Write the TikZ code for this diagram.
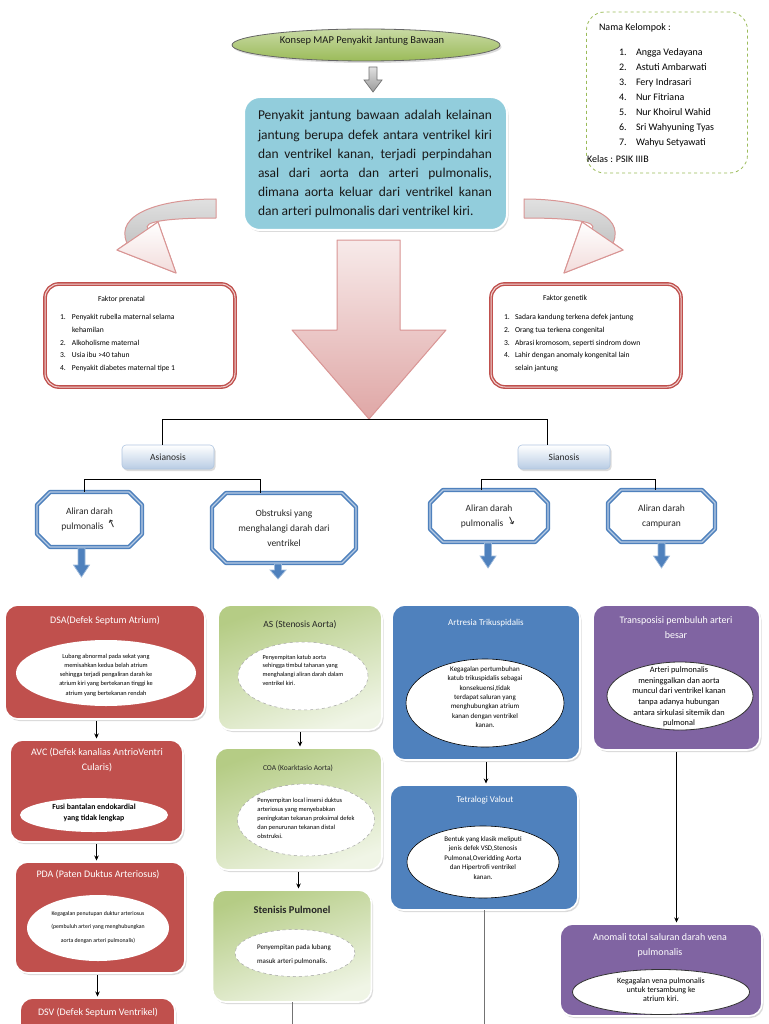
\documentclass[tikz,border=0pt]{standalone}
\usepackage{fontspec}
\setmainfont{Carlito}
\newfontfamily\dejavu{DejaVu Sans}
\usetikzlibrary{arrows.meta,calc,shadows,shapes.geometric}
\pgfdeclarelayer{bg}
\pgfsetlayers{bg,main}
\definecolor{cRed}{HTML}{C0504D}
\definecolor{cRedL}{HTML}{E6B9B8}
\definecolor{cBlue}{HTML}{4F81BD}
\definecolor{cBlueL}{HTML}{B8CCE4}
\definecolor{cPurple}{HTML}{8064A2}
\definecolor{cGreenD}{HTML}{B5CC85}
\definecolor{cGreenL}{HTML}{F0F5E6}
\definecolor{cAqua}{HTML}{92CDDC}
\definecolor{cOlive}{HTML}{9BBB59}
\definecolor{cPink}{HTML}{D99594}
\definecolor{cPinkL}{HTML}{F2DCDB}
\newcommand\myoctagon[2]{%
\begin{pgfonlayer}{bg}
\draw[octline] ($(#1.north west)+(#2,0)$) -- ($(#1.north east)+(-#2,0)$) -- ($(#1.north east)+(0,#2)$) -- ($(#1.south east)+(0,-#2)$) -- ($(#1.south east)+(-#2,0)$) -- ($(#1.south west)+(#2,0)$) -- ($(#1.south west)+(0,-#2)$) -- ($(#1.north west)+(0,#2)$) -- cycle;
\end{pgfonlayer}}
\begin{document}
\begin{tikzpicture}[x=1pt,y=-1pt,
 every node/.style={inner sep=0pt,outer sep=0pt},
 conn/.style={line width=0.7pt,black},
 arr/.style={conn,-{Stealth[length=5pt,width=4.5pt]},shorten <=2pt,shorten >=1.5pt},
 gline/.style={line width=0.8pt,black!55},
 shad/.style={drop shadow={opacity=0.28,shadow xshift=1.5pt,shadow yshift=-2pt}},
 cbox/.style={shad,rounded corners=13pt,draw=white,line width=1.6pt},
 redbox/.style={cbox,fill=cRed},
 bluebox/.style={cbox,fill=cBlue},
 purplebox/.style={cbox,fill=cPurple},
 greenbox/.style={cbox,top color=cGreenD,bottom color=cGreenL,shading angle=20},
 octline/.style={fill=white,draw=cBlue,double=cBlueL,double distance=1.1pt,line width=1.6pt,line join=round},
 octtxt/.style={align=center,font=\fontsize{9.5}{15}\selectfont,text=black!85},
 hbox/.style={shad,rounded corners=4pt,top color=white,bottom color=cBlueL,draw=cBlue!45,line width=0.6pt,font=\fontsize{9.5}{11}\selectfont,text=black!85},
 faktorbox/.style={rounded corners=14pt,fill=white,draw=cRed,double=cRedL!60!white,double distance=1pt,line width=1.4pt},
 listfont/.style={align=left,font=\fontsize{7.6}{12.7}\selectfont,text=black},
 barrow/.style={fill=cBlue,draw=cBlue!55!white,line width=0.7pt},
 ellbase/.style={ellipse,fill=white},
 redell/.style={ellbase},
 greenell/.style={ellbase,draw=black!35,dashed,line width=0.5pt},
 blueell/.style={ellbase,draw=black,line width=0.6pt},
 purpell/.style={ellbase,draw=black!80,line width=0.8pt},
 wtitle/.style={text=white,align=center,font=\fontsize{10}{15}\selectfont},
 dtitle/.style={text=black!85,align=center},
 curveband/.style={top color=black!12,bottom color=black!30,draw=cPink,line width=1pt,line join=round},
 curvehead/.style={top color=white,bottom color=cPinkL,draw=cPink,line width=1pt,line join=round},
]
\begin{pgfonlayer}{bg}
\fill[white] (0,0) rectangle (768,1024);
\end{pgfonlayer}
\useasboundingbox (0,0) rectangle (768,1024);
\coordinate (pagebottom) at (0,1024);

% ---------- title ellipse and grey arrow
\node[ellipse,shad,top color=cOlive!55!white,bottom color=cOlive,draw=black!60,line width=0.8pt,minimum width=268pt,minimum height=32pt] (judul) at (366,45) {};
\node[font=\fontsize{10.5}{12}\selectfont,text=black!90] (judultxt) at (362,41) {Konsep MAP Penyakit Jantung Bawaan};
\draw[top color=black!12,bottom color=black!40,draw=black!55,line width=0.7pt,shift={($(judul.south)+(7,6)$)}]
 (-4,0) -- (-4,13) -- (-9,13) -- (0,25) -- (9,13) -- (4,13) -- (4,0) -- cycle;

% ---------- definition box
\node[shad,rounded corners=16pt,fill=cAqua,draw=white,line width=2pt,minimum width=263pt,minimum height=133pt] (def) at (375.5,163.5) {};
\node[anchor=north west,align=left,font=\fontsize{13.5}{19.2}\selectfont,text=black!90] (deftxt) at (258,110.5) {%
\makebox[234pt][s]{Penyakit jantung bawaan adalah kelainan}\\
\makebox[234pt][s]{jantung berupa defek antara ventrikel kiri}\\
\makebox[234pt][s]{dan ventrikel kanan, terjadi perpindahan}\\
\makebox[234pt][s]{asal dari aorta dan arteri pulmonalis,}\\
\makebox[234pt][s]{dimana aorta keluar dari ventrikel kanan}\\
dan arteri pulmonalis dari ventrikel kiri.};

% ---------- group box
\node[rounded corners=18pt,draw=cOlive,dashed,line width=0.8pt,minimum width=161pt,minimum height=161pt] (nama) at (667,92.5) {};
\node[anchor=west,font=\fontsize{10}{15}\selectfont] (namajudul) at (599,28) {Nama Kelompok :};
\node[anchor=north west,align=left,font=\fontsize{10}{15}\selectfont] (namalist) at (619,48.5) {%
\makebox[17pt][l]{1.}Angga Vedayana\\
\makebox[17pt][l]{2.}Astuti Ambarwati\\
\makebox[17pt][l]{3.}Fery Indrasari\\
\makebox[17pt][l]{4.}Nur Fitriana\\
\makebox[17pt][l]{5.}Nur Khoirul Wahid\\
\makebox[17pt][l]{6.}Sri Wahyuning Tyas\\
\makebox[17pt][l]{7.}Wahyu Setyawati};
\node[anchor=west,font=\fontsize{10}{15}\selectfont] (kelas) at (587,159) {Kelas : PSIK IIIB};

% ---------- curved arrows
\draw[curveband] (216,199) .. controls (160,199) and (114,214) .. (127,243) -- (117,250) -- (176,273) -- (158,222) -- (148,229) .. controls (142,222) and (165,218) .. (216,218) -- cycle;
\draw[curvehead] (117,250) -- (176,273) -- (158,222) -- cycle;
\draw[curveband] (524,199) .. controls (580,199) and (626,214) .. (613,243) -- (623,250) -- (564,273) -- (582,222) -- (592,229) .. controls (598,222) and (575,218) .. (524,218) -- cycle;
\draw[curvehead] (623,250) -- (564,273) -- (582,222) -- cycle;

% ---------- big pink arrow
\draw[top color=cPinkL!60!white,bottom color=cPink!75!cPinkL,draw=cPink,line width=1pt,line join=round]
 (337,240) -- (400,240) -- (400,330) -- (446,330) -- (369,419) -- (292,330) -- (337,330) -- cycle;
\coordinate (tip) at (369,419);

% ---------- factor boxes
\node[faktorbox,minimum width=190pt,minimum height=103pt] (prenatal) at (140,335.5) {};
\node[font=\fontsize{7.6}{9}\selectfont] (prenataljudul) at (121.5,299) {Faktor prenatal};
\node[listfont,anchor=north west] (prenatallist) at (60,314.5) {%
\makebox[12pt][l]{1.}Penyakit rubella maternal selama\\
\makebox[12pt][l]{}kehamilan\\
\makebox[12pt][l]{2.}Alkoholisme maternal\\
\makebox[12pt][l]{3.}Usia ibu >40 tahun\\
\makebox[12pt][l]{4.}Penyakit diabetes maternal tipe 1};
\node[faktorbox,minimum width=190pt,minimum height=103pt] (genetik) at (586,335.5) {};
\node[font=\fontsize{7.6}{9}\selectfont] (genetikjudul) at (565,299) {Faktor genetik};
\node[listfont,anchor=north west] (genetiklist) at (504,314.5) {%
\makebox[11pt][l]{1.}Sadara kandung terkena defek jantung\\
\makebox[11pt][l]{2.}Orang tua terkena congenital\\
\makebox[11pt][l]{3.}Abrasi kromosom, seperti sindrom down\\
\makebox[11pt][l]{4.}Lahir dengan anomaly kongenital lain\\
\makebox[11pt][l]{}selain jantung};

% ---------- tree
\node[hbox,minimum width=92pt,minimum height=24pt] (asia) at (168,457) {Asianosis};
\node[hbox,minimum width=92pt,minimum height=24pt] (sia) at (564,457) {Sianosis};
\coordinate (ta) at (162,419);
\coordinate (ts) at (547,419);
\draw[conn] (ta |- asia.north) -- (ta) -- (ts) -- (ts |- sia.north);

\node[octtxt,minimum width=105pt,minimum height=55pt] (o1) at (89.5,519.5) {Aliran darah\\pulmonalis {\dejavu\fontsize{11}{11}\selectfont\rotatebox{25}{↑}}};
\node[octtxt,minimum width=144pt,minimum height=70pt] (o2) at (284,528) {Obstruksi yang\\menghalangi darah dari\\ventrikel};
\node[octtxt,minimum width=118pt,minimum height=52pt] (o3) at (489,516) {Aliran darah\\pulmonalis {\dejavu\fontsize{11}{11}\selectfont\rotatebox{25}{↓}}};
\node[octtxt,minimum width=107pt,minimum height=52pt] (o4) at (661.5,516) {Aliran darah\\campuran};
\myoctagon{o1}{13}
\myoctagon{o2}{14}
\myoctagon{o3}{13}
\myoctagon{o4}{13}
\coordinate (bl1) at (84,479);
\coordinate (bl2) at (260,479);
\coordinate (br1) at (481,479);
\coordinate (br2) at (655,479);
\draw[conn] (bl1 |- o1.north) -- (bl1) -- (bl2) -- (bl2 |- o2.north);
\draw[conn] (br1 |- o3.north) -- (br1) -- (br2) -- (br2 |- o4.north);

\draw[barrow,shift={($(o1.south)+(-8,1)$)}] (-3.5,0) -- (-3.5,17) -- (-8,17) -- (0,29) -- (8,17) -- (3.5,17) -- (3.5,0) -- cycle;
\draw[barrow,shift={($(o2.south)+(-6,1)$)}] (-3.5,0) -- (-3.5,6) -- (-8,6) -- (0,15) -- (8,6) -- (3.5,6) -- (3.5,0) -- cycle;
\draw[barrow,shift={($(o3.south)+(-1,1)$)}] (-3.5,0) -- (-3.5,13) -- (-8,13) -- (0,25) -- (8,13) -- (3.5,13) -- (3.5,0) -- cycle;
\draw[barrow,shift={($(o4.south)+(0,1)$)}] (-3.5,0) -- (-3.5,13) -- (-8,13) -- (0,25) -- (8,13) -- (3.5,13) -- (3.5,0) -- cycle;

% ---------- column 1 (red)
\node[redbox,minimum width=200pt,minimum height=114pt] (dsa) at (105,662) {};
\node[wtitle] (dsat) at (105,621) {DSA(Defek Septum Atrium)};
\node[redell,minimum width=180pt,minimum height=66pt] (dsaell) at (106,673) {};
\node[align=center,font=\fontsize{6.3}{9.2}\selectfont] (dsaisi) at (106,675) {Lubang abnormal pada sekat yang\\memisahkan kedua belah atrium\\sehingga terjadi pengaliran darah ke\\atrium kiri yang bertekanan tinggi ke\\atrium yang bertekanan rendah};

\node[redbox,minimum width=173pt,minimum height=102pt] (avc) at (96.5,791) {};
\node[wtitle] (avct) at (97,760.5) {AVC (Defek kanalias AntrioVentri\\Cularis)};
\node[redell,minimum width=148pt,minimum height=34pt] (avcell) at (94,815) {};
\node[align=center,font=\bfseries\fontsize{7.8}{11.5}\selectfont] (avcisi) at (94,813) {Fusi bantalan endokardial\\yang tidak lengkap};

\node[redbox,minimum width=170pt,minimum height=111pt] (pda) at (100,917.5) {};
\node[wtitle] (pdat) at (98,875) {PDA (Paten Duktus Arteriosus)};
\node[redell,minimum width=142pt,minimum height=66pt] (pdaell) at (98,928) {};
\node[align=center,font=\fontsize{5.8}{13.5}\selectfont] (pdaisi) at (98,927) {Kegagalan penutupan duktur arteriosus\\(pembuluh arteri yang menghubungkan\\aorta dengan arteri pulmonalis)};

\node[redbox,minimum width=155pt,minimum height=44pt] (dsv) at (97.5,1020) {};
\node[wtitle] (dsvt) at (98,1013) {DSV (Defek Septum Ventrikel)};

\draw[arr] (dsa.south -| avc.north) -- (avc.north);
\draw[arr] (avc.south) -- (avc.south |- pda.north);
\draw[arr] (dsv.north |- pda.south) -- (dsv.north);

% ---------- column 2 (green)
\node[greenbox,minimum width=164pt,minimum height=125pt] (as) at (300,667.5) {};
\node[dtitle,font=\fontsize{9.5}{11}\selectfont] (ast) at (300,625) {AS (Stenosis Aorta)};
\node[greenell,minimum width=130pt,minimum height=68pt] (asell) at (303,676) {};
\node[align=left,font=\fontsize{6.2}{8.6}\selectfont] (asisi) at (303,670) {Penyempitan katub aorta\\sehingga timbul tahanan yang\\menghalangi aliran darah dalam\\ventrikel kiri.};

\node[greenbox,minimum width=167pt,minimum height=122pt] (coa) at (298.5,809) {};
\node[dtitle,font=\fontsize{7.5}{9}\selectfont] (coat) at (298,768) {COA (Koarktasio Aorta)};
\node[greenell,minimum width=137pt,minimum height=72pt] (coaell) at (306,820) {};
\node[align=left,font=\fontsize{6.4}{9}\selectfont] (coaisi) at (306,818) {Penyempitan local insersi duktus\\arteriosus yang menyebabkan\\peningkatan tekanan proksimal defek\\dan penurunan tekanan distal\\obstruksi.};

\node[greenbox,minimum width=159pt,minimum height=112pt] (sp) at (292,946) {};
\node[dtitle,font=\bfseries\fontsize{10.5}{12}\selectfont] (spt) at (292,910) {Stenisis Pulmonel};
\node[greenell,minimum width=120pt,minimum height=47pt] (spell) at (295,953) {};
\node[align=left,font=\fontsize{7}{14}\selectfont] (spisi) at (294,955) {Penyempitan pada lubang\\masuk arteri pulmonalis.};

\draw[arr] (as.south) -- (as.south |- coa.north);
\draw[arr] (coa.south) -- (coa.south |- sp.north);
\draw[gline] (sp.south) -- (sp.south |- pagebottom);

% ---------- column 3 (blue)
\node[bluebox,minimum width=188pt,minimum height=155pt] (at) at (486,682.5) {};
\node[wtitle,font=\fontsize{9}{11}\selectfont] (att) at (486,623) {Artresia Trikuspidalis};
\node[blueell,minimum width=158pt,minimum height=88pt] (atell) at (485,703) {};
\node[align=center,font=\fontsize{7}{9.3}\selectfont] (atisi) at (485,697) {Kegagalan pertumbuhan\\katub trikuspidalis sebagai\\konsekuensi,tidak\\terdapat saluran yang\\menghubungkan atrium\\kanan dengan ventrikel\\kanan.};

\node[bluebox,minimum width=188pt,minimum height=125pt] (tv) at (484,847.5) {};
\node[wtitle,font=\fontsize{9}{11}\selectfont] (tvt) at (485,800) {Tetralogi Valout};
\node[blueell,minimum width=152pt,minimum height=72pt] (tvell) at (483,862) {};
\node[align=center,font=\fontsize{7}{9.5}\selectfont] (tvisi) at (483,858) {Bentuk yang klasik meliputi\\jenis defek VSD,Stenosis\\Pulmonal,Overidding Aorta\\dan Hipertrofi ventrikel\\kanan.};

\draw[arr] (at.south) -- (at.south |- tv.north);
\draw[gline] (tv.south) -- (tv.south |- pagebottom);

% ---------- column 4 (purple)
\node[purplebox,minimum width=167pt,minimum height=145pt] (tp) at (676.5,677.5) {};
\node[wtitle] (tpt) at (676,627.5) {Transposisi pembuluh arteri\\besar};
\node[purpell,minimum width=146pt,minimum height=68pt] (tpell) at (680,696) {};
\node[align=center,font=\fontsize{8.3}{10.6}\selectfont] (tpisi) at (679,697) {Arteri pulmonalis\\meninggalkan dan aorta\\muncul dari ventrikel kanan\\tanpa adanya hubungan\\antara sirkulasi sitemik dan\\pulmonal};

\node[purplebox,minimum width=202pt,minimum height=92pt] (an) at (661,970) {};
\node[wtitle] (ant) at (660,945.5) {Anomali total saluran darah vena\\pulmonalis};
\node[purpell,minimum width=177pt,minimum height=45pt] (anell) at (661,992) {};
\node[align=center,font=\fontsize{8}{9}\selectfont] (anisi) at (661,990) {Kegagalan vena pulmonalis\\untuk tersambung ke\\atrium kiri.};

\draw[arr] (tp.south) -- (tp.south |- an.north);
\end{tikzpicture}
\end{document}
